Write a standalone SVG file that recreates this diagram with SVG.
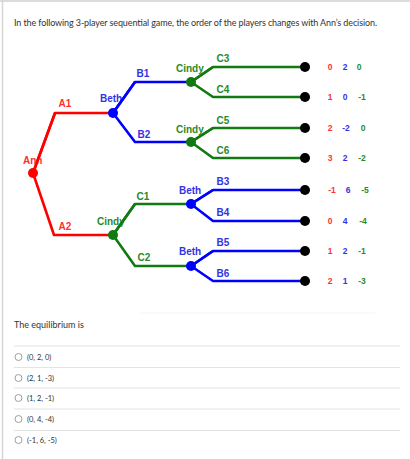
<svg xmlns="http://www.w3.org/2000/svg" width="410" height="459" viewBox="0 0 410 459">
<style>
.r{stroke:#ff0000;fill:none;stroke-width:2.6;stroke-linejoin:round}
.b{stroke:#0000ff;fill:none;stroke-width:2.6;stroke-linejoin:round}
.g{stroke:#117a11;fill:none;stroke-width:2.6;stroke-linejoin:round}
.lbl{font-family:"Liberation Sans",Arial,sans-serif;font-weight:bold;font-size:10px}
.lr{fill:#ff3030}.lb{fill:#3333e6}.lg{fill:#2a8a2a}
.pay{font-family:"Liberation Sans",Arial,sans-serif;font-weight:bold;font-size:8.5px;text-anchor:middle}
.txt{font-family:Lato,"Liberation Sans",sans-serif;font-size:9px;fill:#333}
.opt{font-family:Lato,"Liberation Sans",sans-serif;font-size:7.5px;fill:#333}
.sep{stroke:#e3e3e3;stroke-width:1}
</style>
<rect x="0" y="0" width="410" height="459" fill="#fff"/>
<line x1="0" y1="1" x2="410" y2="1" stroke="#d0d0d0" stroke-width="1.5"/>
<line x1="2.5" y1="0" x2="2.5" y2="459" stroke="#d6d6d6" stroke-width="1.5"/>
<text class="txt" x="14" y="26" textLength="363">In the following 3-player sequential game, the order of the players changes with Ann’s decision.</text>

<g id="connectors">
<polyline class="r" points="33,173 55,113 113,113"/>
<polyline class="r" points="33,173 54,235 113,235"/>
<polyline class="b" points="113,113 135,82 191,82"/>
<polyline class="b" points="113,113 135,142 191,142"/>
<polyline class="g" points="191,82 213,67 305,67"/>
<polyline class="g" points="191,82 213,97 305,97"/>
<polyline class="g" points="191,142 213,128 305,128"/>
<polyline class="g" points="191,142 213,158 305,158"/>
<polyline class="g" points="113,235 135,204 191,204"/>
<polyline class="g" points="113,235 135,266 191,266"/>
<polyline class="b" points="191,204 213,190 305,190"/>
<polyline class="b" points="191,204 213,221 305,221"/>
<polyline class="b" points="191,266 213,251 305,251"/>
<polyline class="b" points="191,266 213,281 305,281"/>
</g>

<g class="lbl">
<text class="lr" x="65" y="107" text-anchor="middle">A1</text>
<text class="lr" x="65" y="230" text-anchor="middle">A2</text>
<text class="lb" x="143" y="77" text-anchor="middle">B1</text>
<text class="lb" x="144" y="138" text-anchor="middle">B2</text>
<text class="lg" x="143" y="200" text-anchor="middle">C1</text>
<text class="lg" x="144" y="261" text-anchor="middle">C2</text>
<text class="lg" x="223" y="62" text-anchor="middle">C3</text>
<text class="lg" x="223" y="93" text-anchor="middle">C4</text>
<text class="lg" x="223" y="124" text-anchor="middle">C5</text>
<text class="lg" x="223" y="154" text-anchor="middle">C6</text>
<text class="lb" x="223" y="185" text-anchor="middle">B3</text>
<text class="lb" x="223" y="216" text-anchor="middle">B4</text>
<text class="lb" x="223" y="246" text-anchor="middle">B5</text>
<text class="lb" x="223" y="277" text-anchor="middle">B6</text>
</g>

<g id="ann"><text class="lbl lr" x="23" y="164">Ann</text><polyline class="r" points="33,173 55,113"/><circle cx="33" cy="173" r="5" fill="#ff0000"/></g>
<g id="beth1"><text class="lbl lb" x="100" y="102">Beth</text><polyline class="b" points="113,113 135,82"/><circle cx="113" cy="113" r="5" fill="#0000ff"/></g>
<g id="cindy0"><text class="lbl lg" x="97" y="225">Cindy</text><polyline class="g" points="113,235 135,204"/><circle cx="113" cy="235" r="5" fill="#117a11"/></g>
<g id="cindy1"><text class="lbl lg" x="176" y="72">Cindy</text><polyline class="g" points="191,82 213,67"/><circle cx="191" cy="82" r="5" fill="#117a11"/></g>
<g id="cindy2"><text class="lbl lg" x="176" y="133">Cindy</text><polyline class="g" points="191,142 213,128"/><circle cx="191" cy="142" r="5" fill="#117a11"/></g>
<g id="beth3"><text class="lbl lb" x="179" y="194">Beth</text><polyline class="b" points="191,204 213,190"/><circle cx="191" cy="204" r="5" fill="#0000ff"/></g>
<g id="beth4"><text class="lbl lb" x="179" y="255">Beth</text><polyline class="b" points="191,266 213,251"/><circle cx="191" cy="266" r="5" fill="#0000ff"/></g>

<g id="end1"><circle cx="305" cy="67" r="5" fill="#000"/><text class="pay" y="70"><tspan class="lr" x="330">0</tspan><tspan class="lb" x="345">2</tspan><tspan class="lg" x="359">0</tspan></text></g>
<g id="end2"><circle cx="305" cy="97" r="5" fill="#000"/><text class="pay" y="100"><tspan class="lr" x="330">1</tspan><tspan class="lb" x="345">0</tspan><tspan class="lg" x="362">-1</tspan></text></g>
<g id="end3"><circle cx="305" cy="128" r="5" fill="#000"/><text class="pay" y="131"><tspan class="lr" x="330">2</tspan><tspan class="lb" x="346">-2</tspan><tspan class="lg" x="363">0</tspan></text></g>
<g id="end4"><circle cx="305" cy="158" r="5" fill="#000"/><text class="pay" y="161"><tspan class="lr" x="330">3</tspan><tspan class="lb" x="345">2</tspan><tspan class="lg" x="362">-2</tspan></text></g>
<g id="end5"><circle cx="305" cy="190" r="5" fill="#000"/><text class="pay" y="193"><tspan class="lr" x="332">-1</tspan><tspan class="lb" x="348">6</tspan><tspan class="lg" x="365">-5</tspan></text></g>
<g id="end6"><circle cx="305" cy="221" r="5" fill="#000"/><text class="pay" y="224"><tspan class="lr" x="330">0</tspan><tspan class="lb" x="345">4</tspan><tspan class="lg" x="363">-4</tspan></text></g>
<g id="end7"><circle cx="305" cy="251" r="5" fill="#000"/><text class="pay" y="254"><tspan class="lr" x="330">1</tspan><tspan class="lb" x="345">2</tspan><tspan class="lg" x="362">-1</tspan></text></g>
<g id="end8"><circle cx="305" cy="281" r="5" fill="#000"/><text class="pay" y="284"><tspan class="lr" x="330">2</tspan><tspan class="lb" x="345">1</tspan><tspan class="lg" x="362">-3</tspan></text></g>

<line x1="140" y1="313" x2="375" y2="313" stroke="#f4f4f4" stroke-width="1"/>
<text class="txt" x="14" y="328">The equilibrium is</text>
<g fill="none" stroke="#888" stroke-width="0.8">
<circle cx="18.5" cy="357" r="3.5"/><circle cx="18.5" cy="378" r="3.5"/><circle cx="18.5" cy="398" r="3.5"/><circle cx="18.5" cy="419" r="3.5"/><circle cx="18.5" cy="440" r="3.5"/>
</g>
<line class="sep" x1="14" y1="346" x2="400" y2="346"/>
<line class="sep" x1="14" y1="367.5" x2="400" y2="367.5"/>
<line class="sep" x1="14" y1="388" x2="400" y2="388"/>
<line class="sep" x1="14" y1="409" x2="400" y2="409"/>
<line class="sep" x1="14" y1="430.5" x2="400" y2="430.5"/>
<text class="opt" x="27" y="360">(0, 2, 0)</text>
<text class="opt" x="27" y="381">(2, 1, -3)</text>
<text class="opt" x="27" y="401">(1, 2, -1)</text>
<text class="opt" x="27" y="422">(0, 4, -4)</text>
<text class="opt" x="27" y="443">(-1, 6, -5)</text>
</svg>
